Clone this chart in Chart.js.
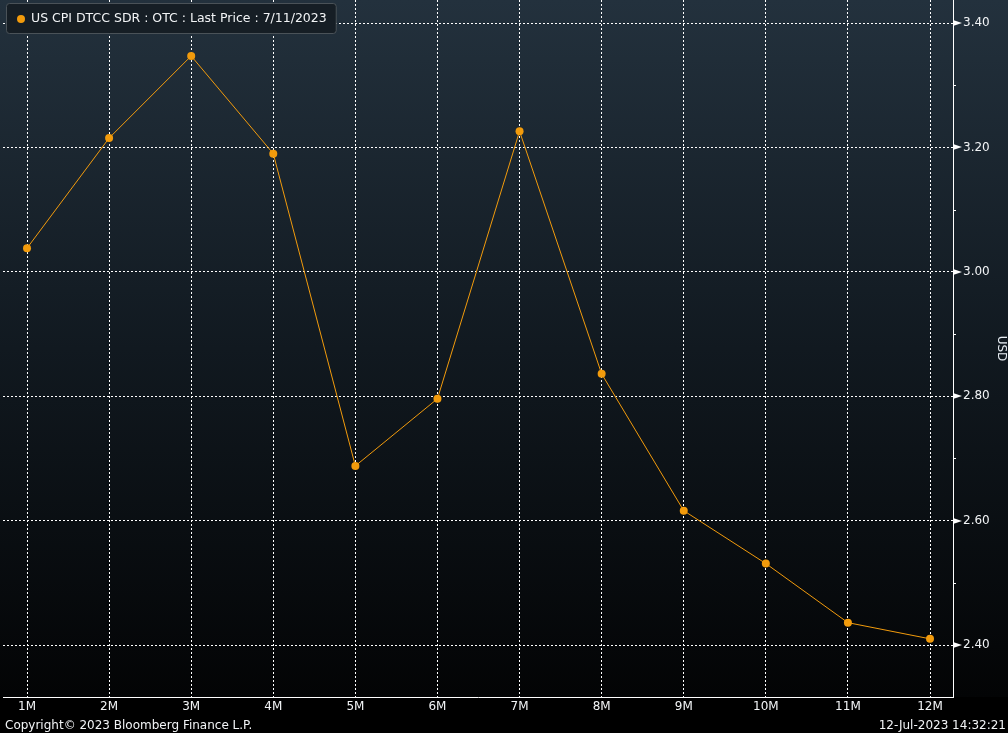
<!DOCTYPE html>
<html>
<head>
<meta charset="utf-8">
<script src="https://cdn.jsdelivr.net/npm/chart.js@4.4.0/dist/chart.umd.min.js"></script>
<style>
  html, body { margin: 0; padding: 0; background: #000; }
  #wrap { width: 1008px; height: 733px; position: relative; }
</style>
</head>
<body>
<div id="wrap"><canvas id="curva"></canvas></div>
<script>
// datos de la curva
const categorias = ['1M', '2M', '3M', '4M', '5M', '6M', '7M', '8M', '9M', '10M', '11M', '12M'];
const precios = [3.038, 3.215, 3.347, 3.190, 2.688, 2.796, 3.226, 2.836, 2.616, 2.531, 2.436, 2.410];
const ticks_y = [2.40, 2.60, 2.80, 3.00, 3.20, 3.40];
const leyenda = 'US CPI DTCC SDR : OTC : Last Price : 7/11/2023';
const pie_izq = 'Copyright\u00a9 2023 Bloomberg Finance L.P.';
const pie_der = '12-Jul-2023 14:32:21';
const titulo_y = 'USD';

const FUENTE = '"DejaVu Sans", sans-serif';
const NARANJA = '#f29b0c';

const puntos = precios.map((v, i) => ({ x: i + 1, y: v }));

// fondo degradado + textos extra
const decoracion = {
    id: 'decoracion',
    beforeDraw(chart) {
        const c = chart.ctx, a = chart.chartArea;
        c.save();
        c.fillStyle = '#000';
        c.fillRect(0, 0, chart.width, chart.height);
        const g = c.createLinearGradient(0, 0, 0, a.bottom);
        g.addColorStop(0, '#23313d');
        g.addColorStop(0.5, '#111920');
        g.addColorStop(1, '#030405');
        c.fillStyle = g;
        c.fillRect(0, 0, chart.width, a.bottom);
        c.restore();
    },
    afterDraw(chart) {
        const c = chart.ctx, a = chart.chartArea;
        const ys = chart.scales.y;
        c.save();
        // marcas del eje derecho
        c.fillStyle = '#fff';
        c.strokeStyle = '#fff';
        c.lineWidth = 1;
        ticks_y.forEach(v => {
            const py = Math.round(ys.getPixelForValue(v));
            c.beginPath();
            c.moveTo(a.right, py - 3);
            c.lineTo(a.right + 9, py);
            c.lineTo(a.right, py + 3);
            c.closePath();
            c.fill();
            if (v < 3.39) {
                const pm = Math.round(ys.getPixelForValue(v + 0.1)) + 0.5;
                c.beginPath();
                c.moveTo(a.right, pm);
                c.lineTo(a.right + 3, pm);
                c.stroke();
            }
        });
        // titulo USD
        c.fillStyle = '#e8eef4';
        c.font = '12px ' + FUENTE;
        c.translate(1001, (a.top + a.bottom) / 2);
        c.rotate(Math.PI / 2);
        c.textAlign = 'center';
        c.textBaseline = 'middle';
        c.fillText(titulo_y, 0, 0);
        c.restore();

        c.save();
        // leyenda
        c.font = '12.5px ' + FUENTE;
        const ancho = c.measureText(leyenda).width;
        c.fillStyle = '#161e25';
        c.strokeStyle = '#4a5258';
        c.lineWidth = 1;
        c.beginPath();
        c.roundRect(6.5, 3.5, ancho + 34, 30, 3);
        c.fill();
        c.stroke();
        c.fillStyle = NARANJA;
        c.beginPath();
        c.arc(21, 19, 4, 0, Math.PI * 2);
        c.fill();
        c.fillStyle = '#f2f4f6';
        c.textBaseline = 'middle';
        c.fillText(leyenda, 31, 19);
        // pie
        c.font = '12px ' + FUENTE;
        c.fillStyle = '#f2f4f6';
        c.textBaseline = 'alphabetic';
        c.textAlign = 'left';
        c.fillText(pie_izq, 5, 729);
        c.textAlign = 'right';
        c.fillText(pie_der, 1006, 729);
        c.restore();
    }
};

const ctx_curva = document.getElementById('curva').getContext('2d');

new Chart(ctx_curva, {
    type: 'line',
    data: {
        datasets: [{
            label: leyenda,
            data: puntos,
            borderColor: NARANJA,
            backgroundColor: NARANJA,
            borderWidth: 1,
            pointRadius: 4,
            pointBorderWidth: 0,
            tension: 0
        }]
    },
    options: {
        responsive: true,
        maintainAspectRatio: false,
        animation: false,
        layout: { autoPadding: false, padding: { left: 3, top: 0, right: 0, bottom: 0 } },
        scales: {
            x: {
                type: 'linear',
                min: 0.7076,
                max: 12.28,
                afterBuildTicks: axis => { axis.ticks = categorias.map((c, i) => ({ value: i + 1 })); },
                afterFit: axis => { axis.height = 36; axis.paddingLeft = 0; axis.paddingRight = 0; },
                border: { display: true, color: '#ffffff', width: 1, dash: [2, 2] },
                grid: {
                    color: '#ffffff',
                    drawTicks: false
                },
                ticks: {
                    color: '#f2f4f6',
                    font: { family: FUENTE, size: 12 },
                    padding: 3,
                    maxRotation: 0,
                    autoSkip: false,
                    callback: value => categorias[Math.round(value) - 1]
                }
            },
            y: {
                position: 'right',
                min: 2.3165,
                max: 3.437,
                afterBuildTicks: axis => { axis.ticks = ticks_y.map(v => ({ value: v })); },
                afterFit: axis => { axis.width = 55; axis.paddingTop = 0; axis.paddingBottom = 0; },
                border: { display: true, color: '#ffffff', width: 1, dash: [2, 2] },
                grid: {
                    color: '#ffffff',
                    drawTicks: false
                },
                ticks: {
                    color: '#f2f4f6',
                    font: { family: FUENTE, size: 12 },
                    padding: 10,
                    callback: value => value.toFixed(2)
                }
            }
        },
        plugins: {
            legend: { display: false },
            tooltip: { enabled: false }
        }
    },
    plugins: [decoracion]
});
</script>
</body>
</html>
